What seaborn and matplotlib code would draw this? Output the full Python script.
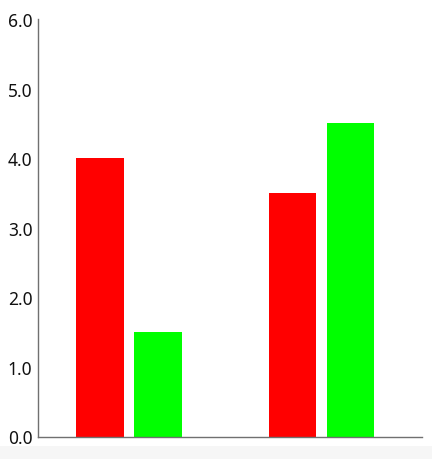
import matplotlib
matplotlib.use("Agg")
import matplotlib.pyplot as plt
import seaborn as sns
import pandas as pd
from matplotlib.patches import Rectangle

groups = ["A", "B"]
series = ["red", "green"]
red_values = [4.0, 3.5]
green_values = [1.5, 4.5]
y_ticks = [0, 1, 2, 3, 4, 5, 6]
y_tick_labels = ["0.0", "1.0", "2.0", "3.0", "4.0", "5.0", "6.0"]

df = pd.DataFrame({
    "group": groups * 2,
    "series": ["red"] * len(groups) + ["green"] * len(groups),
    "value": red_values + green_values,
})

sns.set_theme(style="white")
plt.rcParams["font.family"] = ["Noto Sans", "DejaVu Sans"]

fig = plt.figure(figsize=(4.32, 4.6), dpi=100)
fig.patch.set_facecolor("white")
fig.add_artist(Rectangle((0, 0), 1, 13 / 460, transform=fig.transFigure,
                         facecolor="#f6f6f6", edgecolor="none", zorder=0))
ax = fig.add_axes([38 / 432, 1 - 437.5 / 460, (422 - 38) / 432, (437.5 - 20) / 460])
ax.set_facecolor("none")

sns.barplot(data=df, x="group", y="value", hue="series",
            palette={"red": "#ff0000", "green": "#00ff00"},
            width=0.6, gap=0.18, ax=ax, legend=False, linewidth=0,
            saturation=1, errorbar=None)

ax.set_xlim(-0.473, 1.522)
ax.set_ylim(0, 6)
ax.set_yticks(y_ticks)
ax.set_yticklabels(y_tick_labels, fontsize=12.5, color="#111111")
ax.set_xticks([])
ax.set_xlabel("")
ax.set_ylabel("")
ax.tick_params(axis="y", length=0, pad=4)
for s in ["top", "right"]:
    ax.spines[s].set_visible(False)
for s in ["left", "bottom"]:
    ax.spines[s].set_color("#707070")
    ax.spines[s].set_linewidth(1.0)

fig.savefig("out.png", dpi=100)
